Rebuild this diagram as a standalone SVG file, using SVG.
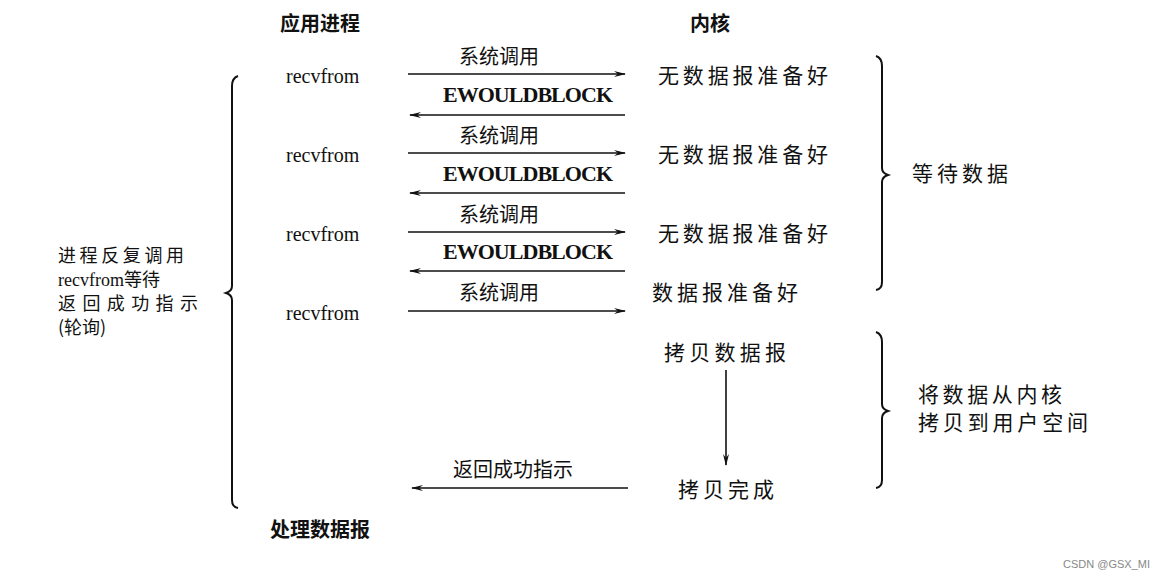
<svg xmlns="http://www.w3.org/2000/svg" width="1163" height="579" viewBox="0 0 1163 579">
<style>
.t{font-family:"Noto Sans CJK SC","Liberation Serif",serif;font-size:20px;fill:#111}
.k{font-size:21px}
.b{font-weight:bold}
.r{font-family:"Liberation Serif",serif;font-size:20px;fill:#111}
.e{font-family:"Liberation Serif",serif;font-size:22px;fill:#111;font-weight:bold}
.s{font-size:18px}
.l{stroke:#111;stroke-width:1.6;fill:none}
.br{stroke:#111;stroke-width:2;fill:none}
</style>
<defs><marker id="a" markerWidth="12" markerHeight="8" refX="11" refY="4" orient="auto" markerUnits="userSpaceOnUse"><path d="M0,1 L12,4 L0,7 L4,4 Z" fill="#111"/></marker></defs>
<rect width="1163" height="579" fill="#fff"/>
<g id="headers"><text class="t b" x="280" y="31">应用进程</text><text class="t b" x="690" y="31">内核</text></g>
<g id="app">
<text class="r" x="286" y="83">recvfrom</text>
<text class="r" x="286" y="162">recvfrom</text>
<text class="r" x="286" y="241">recvfrom</text>
<text class="r" x="286" y="320">recvfrom</text>
<text class="t b" x="270" y="537">处理数据报</text>
<text class="t s" x="58" y="262" textLength="126">进程反复调用</text>
<text class="t s" x="58" y="286"><tspan font-family="Liberation Serif">recvfrom</tspan>等待</text>
<text class="t s" x="58" y="310" textLength="140">返回成功指示</text>
<text class="t s" x="58" y="334">(轮询)</text>
</g>
<g id="kernel">
<text class="t k" x="658" y="83" textLength="170">无数据报准备好</text>
<text class="t k" x="658" y="162" textLength="170">无数据报准备好</text>
<text class="t k" x="658" y="241" textLength="170">无数据报准备好</text>
<text class="t k" x="652" y="300" textLength="146">数据报准备好</text>
<text class="t k" x="664" y="360" textLength="122">拷贝数据报</text>
<text class="t k" x="678" y="497" textLength="96">拷贝完成</text>
<text class="t k" x="912" y="181" textLength="96">等待数据</text>
<text class="t k" x="918" y="402" textLength="144">将数据从内核</text>
<text class="t k" x="918" y="430" textLength="170">拷贝到用户空间</text>
</g>
<g id="labels">
<text class="t" x="459" y="64">系统调用</text>
<text class="e" x="443" y="102" textLength="170">EWOULDBLOCK</text>
<text class="t" x="459" y="143">系统调用</text>
<text class="e" x="443" y="181" textLength="170">EWOULDBLOCK</text>
<text class="t" x="459" y="222">系统调用</text>
<text class="e" x="443" y="259" textLength="170">EWOULDBLOCK</text>
<text class="t" x="459" y="300">系统调用</text>
<text class="t" x="453" y="477">返回成功指示</text>
</g>
<g id="connectors">
<line class="l" x1="408" y1="74" x2="625" y2="74" marker-end="url(#a)"/>
<line class="l" x1="625" y1="115" x2="410" y2="115" marker-end="url(#a)"/>
<line class="l" x1="408" y1="153" x2="625" y2="153" marker-end="url(#a)"/>
<line class="l" x1="625" y1="193" x2="410" y2="193" marker-end="url(#a)"/>
<line class="l" x1="408" y1="232" x2="625" y2="232" marker-end="url(#a)"/>
<line class="l" x1="625" y1="271" x2="410" y2="271" marker-end="url(#a)"/>
<line class="l" x1="408" y1="311" x2="625" y2="311" marker-end="url(#a)"/>
<line class="l" x1="726" y1="370" x2="726" y2="465" marker-end="url(#a)"/>
<line class="l" x1="628" y1="488" x2="412" y2="488" marker-end="url(#a)"/>
</g>
<g id="braces">
<path class="br" d="M238,76 Q232,78 232,86 L232,286 Q232,291 226,293 Q232,295 232,300 L232,500 Q232,507 238,508"/>
<path class="br" d="M876,56 Q882,58 882,66 L882,168 Q882,173 888,175 Q882,177 882,182 L882,282 Q882,289 876,290"/>
<path class="br" d="M876,332 Q882,334 882,342 L882,404 Q882,409 888,411 Q882,413 882,418 L882,480 Q882,487 876,488"/>
</g>
<text x="1063" y="568" font-family="Liberation Sans,sans-serif" font-size="11" fill="#888">CSDN @GSX_MI</text>
</svg>
